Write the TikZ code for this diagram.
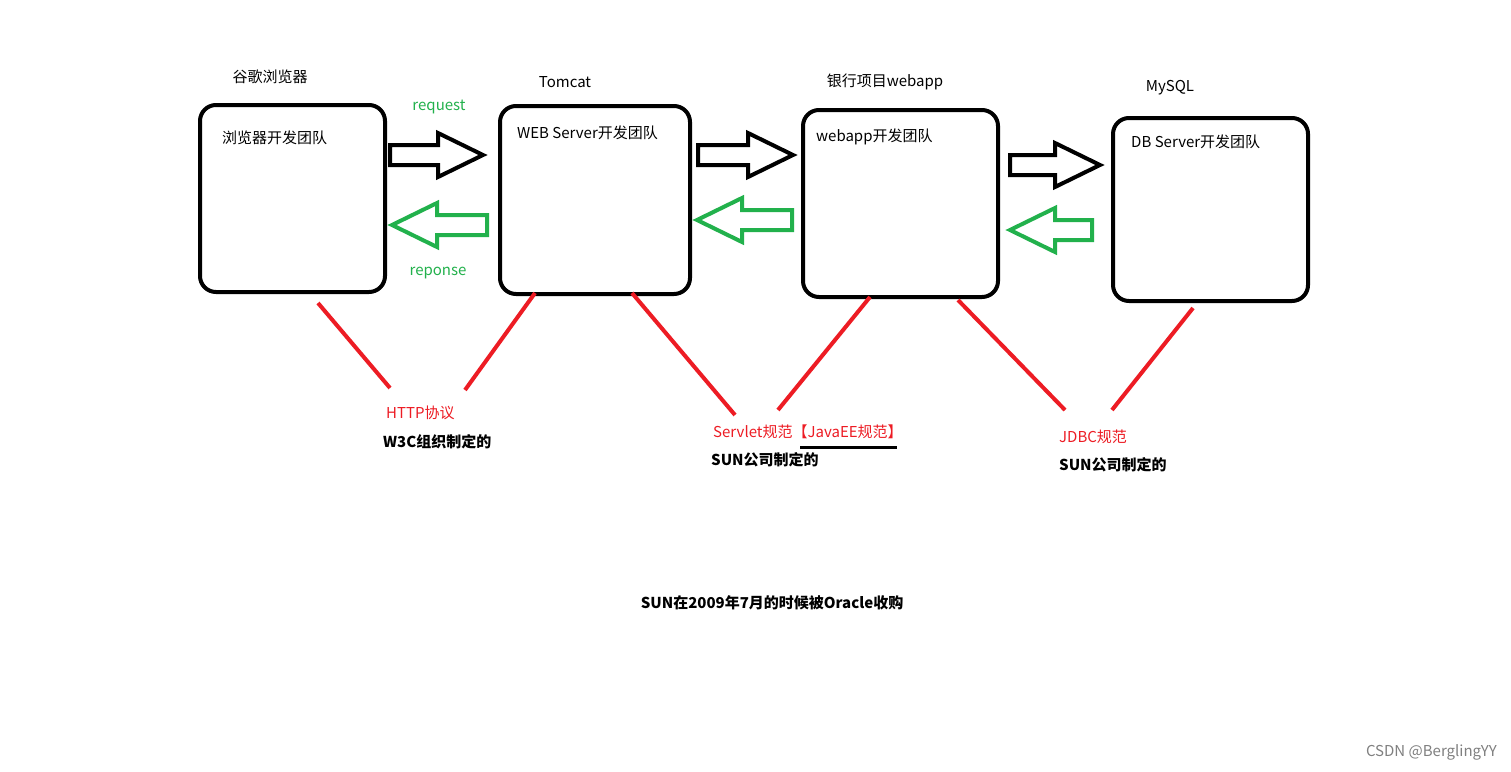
\documentclass[tikz,border=0pt]{standalone}
\usepackage{fontspec}
\setmainfont{Noto Sans CJK SC}
\begin{document}
\newcommand\myrarr[4]{% x1 x2 yc color
\draw[#4,line width=4pt,line join=miter] (#1,#3-10)--(#2-45,#3-10)--(#2-45,#3-22)--(#2,#3)--(#2-45,#3+22)--(#2-45,#3+10)--(#1,#3+10)--cycle;}
\newcommand\mylarr[4]{% x1(tip) x2 yc color
\draw[#4,line width=4pt,line join=miter] (#2,#3-10)--(#1+45,#3-10)--(#1+45,#3-22)--(#1,#3)--(#1+45,#3+22)--(#1+45,#3+10)--(#2,#3+10)--cycle;}
\begin{tikzpicture}[x=1pt,y=-1pt,
  box/.style={draw,line width=4pt,rounded corners=16pt},
  lbl/.style={font=\fontsize{15}{17}\selectfont,inner sep=0pt},
  bl/.style={lbl,font=\fontsize{15}{17}\selectfont\bfseries,anchor=west}]
\definecolor{grn}{RGB}{34,177,76}
\definecolor{rd}{RGB}{237,28,36}
\fill[white] (0,0) rectangle (1511,771);
\useasboundingbox (0,0) rectangle (1511,771);
\draw[box] (200,105) rectangle (385,292);
\draw[box] (500,106) rectangle (690,294);
\draw[box] (803,110) rectangle (998,297);
\draw[box] (1113,118) rectangle (1308,301);
\myrarr{390}{483}{155}{black}
\myrarr{698}{793}{155}{black}
\myrarr{1010}{1100}{165}{black}
\mylarr{392}{487}{225}{grn}
\mylarr{697}{792}{220}{grn}
\mylarr{1010}{1092}{230}{grn}
\draw[rd,line width=4pt] (318,303)--(390,388) (535,293)--(465,390) (632,293)--(735,415)
 (870,297)--(778,410) (958,300)--(1065,410) (1193,308)--(1112,410);
\node[lbl] at (270,77) {谷歌浏览器};
\node[lbl] at (565,82) {Tomcat};
\node[lbl] at (885,82) {银行项目webapp};
\node[lbl] at (1170,88) {MySQL};
\node[lbl,anchor=west] at (222,138) {浏览器开发团队};
\node[lbl,anchor=west] at (517,133) {WEB Server开发团队};
\node[lbl,anchor=west] at (816,137) {webapp开发团队};
\node[lbl,anchor=west] at (1131,142) {DB Server开发团队};
\node[lbl,text=grn] at (439,107) {request};
\node[lbl,text=grn] at (438,273) {reponse};
\node[lbl,text=rd,anchor=west] at (386,413) {HTTP协议};
\node[bl] at (383,442) {W3C组织制定的};
\node[lbl,text=rd,anchor=west] at (713,432) {Servlet规范【JavaEE规范】};
\draw[line width=3pt] (800,447)--(897,447);
\node[bl] at (711,460) {SUN公司制定的};
\node[lbl,text=rd,anchor=west] at (1059,437) {JDBC规范};
\node[bl] at (1059,465) {SUN公司制定的};
\node[lbl,font=\fontsize{15}{17}\selectfont\bfseries] at (772,603) {SUN在2009年7月的时候被Oracle收购};
\node[lbl,text=gray,anchor=east] at (1497,752) {CSDN @BerglingYY};
\end{tikzpicture}
\end{document}
